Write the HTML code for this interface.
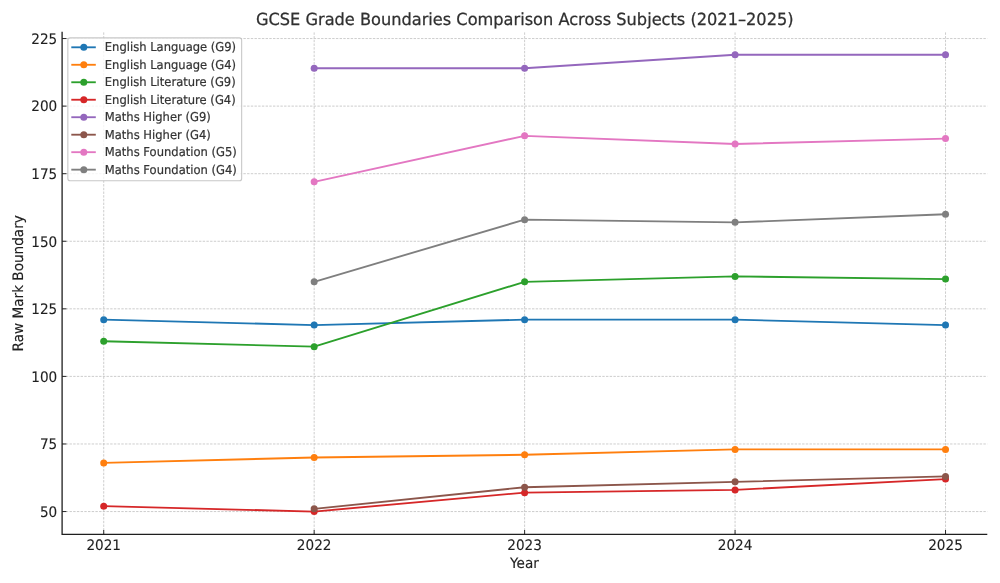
<!DOCTYPE html>
<html lang="en">
<head>
<meta charset="utf-8">
<title>GCSE Grade Boundaries Comparison Across Subjects (2021–2025)</title>
<style>
html,body{margin:0;padding:0;background:#fff;}
body{width:1000px;height:583px;overflow:hidden;}
svg{display:block;}
text{font-family:'DejaVu Sans','Liberation Sans',sans-serif;text-rendering:geometricPrecision;}
.tick{font-size:13.6px;fill:#1f1f1f;stroke:#1f1f1f;stroke-width:0.12px;}
.lab{font-size:13.6px;fill:#1f1f1f;stroke:#1f1f1f;stroke-width:0.12px;}
.title{font-size:16.2px;fill:#303030;stroke:#303030;stroke-width:0.25px;}
.leg{font-size:11.55px;fill:#333;stroke:#333;stroke-width:0.2px;}
.grid line{stroke:#c0c0c0;stroke-width:0.8;stroke-dasharray:2.4 1.3;}
.sp{stroke:#1f1f1f;stroke-width:1.3;fill:none;}
.tk line{stroke:#1f1f1f;stroke-width:0.95;}
</style>
</head>
<body>
<svg width="1000" height="583" viewBox="0 0 1000 583">
<rect x="0" y="0" width="1000" height="583" fill="#ffffff"/>
<g class="grid">
<line x1="103.72" y1="534.30" x2="103.72" y2="31.80"/>
<line x1="314.17" y1="534.30" x2="314.17" y2="31.80"/>
<line x1="524.62" y1="534.30" x2="524.62" y2="31.80"/>
<line x1="735.07" y1="534.30" x2="735.07" y2="31.80"/>
<line x1="945.52" y1="534.30" x2="945.52" y2="31.80"/>
<line x1="62.10" y1="511.55" x2="987.30" y2="511.55"/>
<line x1="62.10" y1="443.98" x2="987.30" y2="443.98"/>
<line x1="62.10" y1="376.40" x2="987.30" y2="376.40"/>
<line x1="62.10" y1="308.83" x2="987.30" y2="308.83"/>
<line x1="62.10" y1="241.26" x2="987.30" y2="241.26"/>
<line x1="62.10" y1="173.69" x2="987.30" y2="173.69"/>
<line x1="62.10" y1="106.12" x2="987.30" y2="106.12"/>
<line x1="62.10" y1="38.54" x2="987.30" y2="38.54"/>
</g>
<g fill="#1f77b4" stroke="none"><polyline points="103.72,319.64 314.17,325.05 524.62,319.64 735.07,319.64 945.52,325.05" fill="none" stroke="#1f77b4" stroke-width="1.85" stroke-linejoin="round"/>
<circle cx="103.72" cy="319.64" r="3.5"/>
<circle cx="314.17" cy="325.05" r="3.5"/>
<circle cx="524.62" cy="319.64" r="3.5"/>
<circle cx="735.07" cy="319.64" r="3.5"/>
<circle cx="945.52" cy="325.05" r="3.5"/>
</g>
<g fill="#ff7f0e" stroke="none"><polyline points="103.72,462.90 314.17,457.49 524.62,454.79 735.07,449.38 945.52,449.38" fill="none" stroke="#ff7f0e" stroke-width="1.85" stroke-linejoin="round"/>
<circle cx="103.72" cy="462.90" r="3.5"/>
<circle cx="314.17" cy="457.49" r="3.5"/>
<circle cx="524.62" cy="454.79" r="3.5"/>
<circle cx="735.07" cy="449.38" r="3.5"/>
<circle cx="945.52" cy="449.38" r="3.5"/>
</g>
<g fill="#2ca02c" stroke="none"><polyline points="103.72,341.27 314.17,346.67 524.62,281.80 735.07,276.40 945.52,279.10" fill="none" stroke="#2ca02c" stroke-width="1.85" stroke-linejoin="round"/>
<circle cx="103.72" cy="341.27" r="3.5"/>
<circle cx="314.17" cy="346.67" r="3.5"/>
<circle cx="524.62" cy="281.80" r="3.5"/>
<circle cx="735.07" cy="276.40" r="3.5"/>
<circle cx="945.52" cy="279.10" r="3.5"/>
</g>
<g fill="#d62728" stroke="none"><polyline points="103.72,506.14 314.17,511.55 524.62,492.63 735.07,489.93 945.52,479.12" fill="none" stroke="#d62728" stroke-width="1.85" stroke-linejoin="round"/>
<circle cx="103.72" cy="506.14" r="3.5"/>
<circle cx="314.17" cy="511.55" r="3.5"/>
<circle cx="524.62" cy="492.63" r="3.5"/>
<circle cx="735.07" cy="489.93" r="3.5"/>
<circle cx="945.52" cy="479.12" r="3.5"/>
</g>
<g fill="#9467bd" stroke="none"><polyline points="314.17,68.27 524.62,68.27 735.07,54.76 945.52,54.76" fill="none" stroke="#9467bd" stroke-width="1.85" stroke-linejoin="round"/>
<circle cx="314.17" cy="68.27" r="3.5"/>
<circle cx="524.62" cy="68.27" r="3.5"/>
<circle cx="735.07" cy="54.76" r="3.5"/>
<circle cx="945.52" cy="54.76" r="3.5"/>
</g>
<g fill="#8c564b" stroke="none"><polyline points="314.17,508.85 524.62,487.22 735.07,481.82 945.52,476.41" fill="none" stroke="#8c564b" stroke-width="1.85" stroke-linejoin="round"/>
<circle cx="314.17" cy="508.85" r="3.5"/>
<circle cx="524.62" cy="487.22" r="3.5"/>
<circle cx="735.07" cy="481.82" r="3.5"/>
<circle cx="945.52" cy="476.41" r="3.5"/>
</g>
<g fill="#e377c2" stroke="none"><polyline points="314.17,181.80 524.62,135.85 735.07,143.96 945.52,138.55" fill="none" stroke="#e377c2" stroke-width="1.85" stroke-linejoin="round"/>
<circle cx="314.17" cy="181.80" r="3.5"/>
<circle cx="524.62" cy="135.85" r="3.5"/>
<circle cx="735.07" cy="143.96" r="3.5"/>
<circle cx="945.52" cy="138.55" r="3.5"/>
</g>
<g fill="#7f7f7f" stroke="none"><polyline points="314.17,281.80 524.62,219.64 735.07,222.34 945.52,214.23" fill="none" stroke="#7f7f7f" stroke-width="1.85" stroke-linejoin="round"/>
<circle cx="314.17" cy="281.80" r="3.5"/>
<circle cx="524.62" cy="219.64" r="3.5"/>
<circle cx="735.07" cy="222.34" r="3.5"/>
<circle cx="945.52" cy="214.23" r="3.5"/>
</g>
<path class="sp" d="M62.10,31.80 V534.95 M61.45,534.30 H987.30"/>
<g class="tk">
<line x1="103.72" y1="534.30" x2="103.72" y2="530.00"/>
<line x1="314.17" y1="534.30" x2="314.17" y2="530.00"/>
<line x1="524.62" y1="534.30" x2="524.62" y2="530.00"/>
<line x1="735.07" y1="534.30" x2="735.07" y2="530.00"/>
<line x1="945.52" y1="534.30" x2="945.52" y2="530.00"/>
<line x1="62.10" y1="511.55" x2="66.40" y2="511.55"/>
<line x1="62.10" y1="443.98" x2="66.40" y2="443.98"/>
<line x1="62.10" y1="376.40" x2="66.40" y2="376.40"/>
<line x1="62.10" y1="308.83" x2="66.40" y2="308.83"/>
<line x1="62.10" y1="241.26" x2="66.40" y2="241.26"/>
<line x1="62.10" y1="173.69" x2="66.40" y2="173.69"/>
<line x1="62.10" y1="106.12" x2="66.40" y2="106.12"/>
<line x1="62.10" y1="38.54" x2="66.40" y2="38.54"/>
</g>
<text class="tick" transform="translate(103.72,549.6) scale(1,1.06)" text-anchor="middle">2021</text>
<text class="tick" transform="translate(314.17,549.6) scale(1,1.06)" text-anchor="middle">2022</text>
<text class="tick" transform="translate(524.62,549.6) scale(1,1.06)" text-anchor="middle">2023</text>
<text class="tick" transform="translate(735.07,549.6) scale(1,1.06)" text-anchor="middle">2024</text>
<text class="tick" transform="translate(945.52,549.6) scale(1,1.06)" text-anchor="middle">2025</text>
<text class="tick" transform="translate(57.2,516.85) scale(1,1.07)" text-anchor="end">50</text>
<text class="tick" transform="translate(57.2,449.28) scale(1,1.07)" text-anchor="end">75</text>
<text class="tick" transform="translate(57.2,381.70) scale(1,1.07)" text-anchor="end">100</text>
<text class="tick" transform="translate(57.2,314.13) scale(1,1.07)" text-anchor="end">125</text>
<text class="tick" transform="translate(57.2,246.56) scale(1,1.07)" text-anchor="end">150</text>
<text class="tick" transform="translate(57.2,178.99) scale(1,1.07)" text-anchor="end">175</text>
<text class="tick" transform="translate(57.2,111.42) scale(1,1.07)" text-anchor="end">200</text>
<text class="tick" transform="translate(57.2,43.84) scale(1,1.07)" text-anchor="end">225</text>
<text class="lab" transform="translate(524.5,567.5) scale(1,1.06)" text-anchor="middle">Year</text>
<text class="lab" transform="translate(23.3,283.3) rotate(-90) scale(1,1.06)" text-anchor="middle">Raw Mark Boundary</text>
<text class="title" transform="translate(524.75,24.9) scale(1,1.03)" text-anchor="middle">GCSE Grade Boundaries Comparison Across Subjects (2021–2025)</text>
<rect x="67.85" y="37.9" width="173.8" height="142.8" rx="2.3" ry="2.3" fill="#ffffff" fill-opacity="0.8" stroke="#c2c2c2" stroke-opacity="0.9" stroke-width="1.1"/>
<line x1="71.3" y1="47.30" x2="95.8" y2="47.30" stroke="#1f77b4" stroke-width="1.85"/><circle cx="83.8" cy="47.30" r="3.5" fill="#1f77b4"/>
<text class="leg" transform="translate(104.8,51.45) scale(1,1.06)">English Language (G9)</text>
<line x1="71.3" y1="64.78" x2="95.8" y2="64.78" stroke="#ff7f0e" stroke-width="1.85"/><circle cx="83.8" cy="64.78" r="3.5" fill="#ff7f0e"/>
<text class="leg" transform="translate(104.8,68.93) scale(1,1.06)">English Language (G4)</text>
<line x1="71.3" y1="82.26" x2="95.8" y2="82.26" stroke="#2ca02c" stroke-width="1.85"/><circle cx="83.8" cy="82.26" r="3.5" fill="#2ca02c"/>
<text class="leg" transform="translate(104.8,86.41) scale(1,1.06)">English Literature (G9)</text>
<line x1="71.3" y1="99.74" x2="95.8" y2="99.74" stroke="#d62728" stroke-width="1.85"/><circle cx="83.8" cy="99.74" r="3.5" fill="#d62728"/>
<text class="leg" transform="translate(104.8,103.89) scale(1,1.06)">English Literature (G4)</text>
<line x1="71.3" y1="117.22" x2="95.8" y2="117.22" stroke="#9467bd" stroke-width="1.85"/><circle cx="83.8" cy="117.22" r="3.5" fill="#9467bd"/>
<text class="leg" transform="translate(104.8,121.37) scale(1,1.06)">Maths Higher (G9)</text>
<line x1="71.3" y1="134.70" x2="95.8" y2="134.70" stroke="#8c564b" stroke-width="1.85"/><circle cx="83.8" cy="134.70" r="3.5" fill="#8c564b"/>
<text class="leg" transform="translate(104.8,138.85) scale(1,1.06)">Maths Higher (G4)</text>
<line x1="71.3" y1="152.18" x2="95.8" y2="152.18" stroke="#e377c2" stroke-width="1.85"/><circle cx="83.8" cy="152.18" r="3.5" fill="#e377c2"/>
<text class="leg" transform="translate(104.8,156.33) scale(1,1.06)">Maths Foundation (G5)</text>
<line x1="71.3" y1="169.66" x2="95.8" y2="169.66" stroke="#7f7f7f" stroke-width="1.85"/><circle cx="83.8" cy="169.66" r="3.5" fill="#7f7f7f"/>
<text class="leg" transform="translate(104.8,173.81) scale(1,1.06)">Maths Foundation (G4)</text>
</svg>
</body>
</html>
